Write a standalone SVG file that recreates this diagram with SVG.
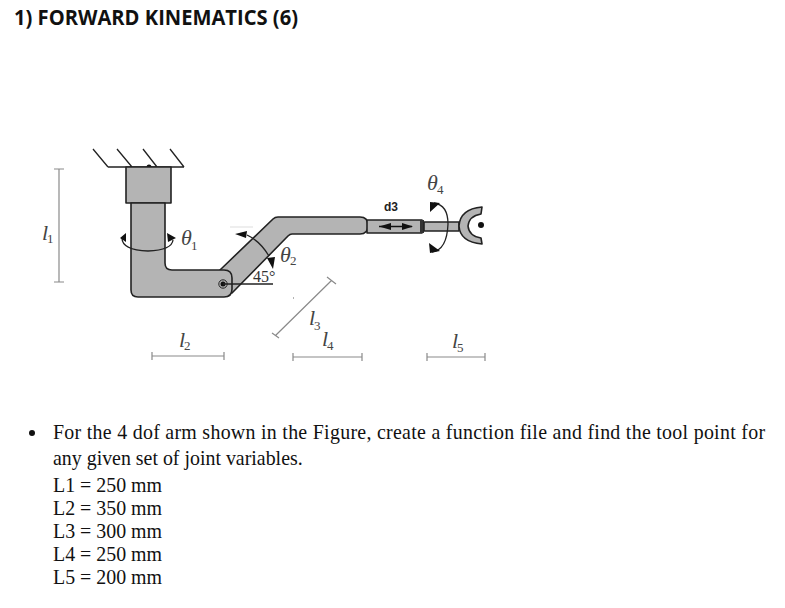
<svg xmlns="http://www.w3.org/2000/svg" width="785" height="608" viewBox="0 0 785 608">
<style>
.t{font-family:"Liberation Serif",serif;font-size:19.9px;fill:#111}
.h{font-family:"Open Sans","Liberation Sans",sans-serif;font-size:20.5px;font-weight:700;fill:#111}
.v{font-family:"Liberation Serif",serif;font-style:italic;font-size:22px;fill:#444}
.s{font-family:"Liberation Serif",serif;font-size:13px;fill:#444}
.b{fill:#b4b4b4;stroke:#222;stroke-width:1.6;stroke-linejoin:round}
.l{fill:none;stroke:#222;stroke-width:1.3}
.d{fill:none;stroke:#8a8a8a;stroke-width:1.2}
.k{fill:#111}
</style>
<rect width="785" height="608" fill="#fff"/>
<text id="title" class="h" x="14" y="25" textLength="284" lengthAdjust="spacingAndGlyphs">1) FORWARD KINEMATICS (6)</text>
<g id="ground">
<path class="l" d="M108 167H184M93 149L108 167M117 149L132 167M143 149L157 167M170 149L184 167"/>
<circle class="k" cx="149" cy="167" r="2.500"/>
</g>
<g id="link3">
<path class="b" d="M220 270L273 219Q275 217 278 217H360Q368 217 368 225.500Q368 234 360 234H292Q290 234 288 236L232 293Z"/>
</g>
<g id="link1">
<rect class="b" x="126" y="167" width="45" height="36"/>
<path class="b" d="M131 203H165V263Q165 270 172 270H224Q232 270 232 278V289Q232 297 224 297H138Q131 297 131 290Z"/>
<circle cx="223" cy="284" r="4.200" fill="none" stroke="#222"/>
<circle class="k" cx="223" cy="284" r="2.500"/>
</g>
<g id="prismatic">
<rect class="b" x="367" y="220" width="55" height="13"/>
<rect x="420" y="220" width="4" height="13" fill="#333"/>
<rect class="b" x="424" y="222" width="35" height="9"/>
</g>
<g id="gripper">
<path class="b" d="M482 207L481 214Q469 216 468 226Q469 236 481 238L482 244Q460 242 459 226Q460 209 482 207Z"/>
<circle class="k" cx="481" cy="225" r="3"/>
</g>
<g id="connectors">
<path class="l" d="M223 284H273"/>
<path class="l" d="M122 238Q122 250 148 251Q172 250 173 240"/>
<path class="k" d="M126 233L120 238L126 242Z M167 233L176 238L168 242Z"/>
<path class="l" d="M247 235Q260 241 269 256"/>
<path class="k" d="M235 234L247 231L246 238Z M267 258L275 257L273 269Z"/>
<path d="M230 227H253" stroke="#ddd" fill="none"/>
<path class="l" d="M434 203Q448 205 448 224Q447 250 432 252"/>
<path class="k" d="M430 202L440 203L430 212Z M429 243L440 251L430 253Z"/>
<path d="M379 226.500H412" stroke="#111" stroke-width="1.300"/>
<path class="k" d="M379 226.500L391 223V230Z M413 226.500L402 223V230Z"/>
<path class="d" d="M54 169H64M59 169V282M54 282H64"/>
<path class="d" d="M152 352V360M152 356H224M224 352V360"/>
<path class="d" d="M293 353V361M293 357H362M362 353V361"/>
<path class="d" d="M427 353V361M427 357H485M485 353V361"/>
<path class="d" d="M272 333L279 338M275.500 335.500L331.500 280.500M327 277L336 284"/>
<path d="M293 298h1" stroke="#666" fill="none"/>
</g>
<g id="labels">
<text class="v" x="42" y="240">l</text><text class="s" x="47" y="243">1</text>
<text class="v" x="181" y="245">θ</text><text class="s" x="191" y="250">1</text>
<text class="v" x="179" y="347">l</text><text class="s" x="184" y="350">2</text>
<text class="v" x="280" y="262">θ</text><text class="s" x="290" y="265">2</text>
<text x="253" y="282" font-family="Liberation Serif,serif" font-size="16" fill="#333">45°</text>
<text class="v" x="309" y="325">l</text><text class="s" x="314" y="330">3</text>
<text class="v" x="322" y="346">l</text><text class="s" x="327" y="350">4</text>
<text x="384" y="211" font-family="Liberation Sans,sans-serif" font-size="12" font-weight="700" fill="#222">d3</text>
<text class="v" x="427" y="190">θ</text><text class="s" x="437" y="194">4</text>
<text class="v" x="452" y="348">l</text><text class="s" x="457" y="352">5</text>
</g>
<g id="body">
<circle class="k" cx="32" cy="433" r="3"/>
<text class="t" x="53" y="439" textLength="712">For the 4 dof arm shown in the Figure, create a function file and find the tool point for</text>
<text class="t" x="53" y="465">any given set of joint variables.</text>
<text class="t" x="53" y="492">L1 = 250 mm</text>
<text class="t" x="53" y="515">L2 = 350 mm</text>
<text class="t" x="53" y="538">L3 = 300 mm</text>
<text class="t" x="53" y="561">L4 = 250 mm</text>
<text class="t" x="53" y="584">L5 = 200 mm</text>
</g>
</svg>
